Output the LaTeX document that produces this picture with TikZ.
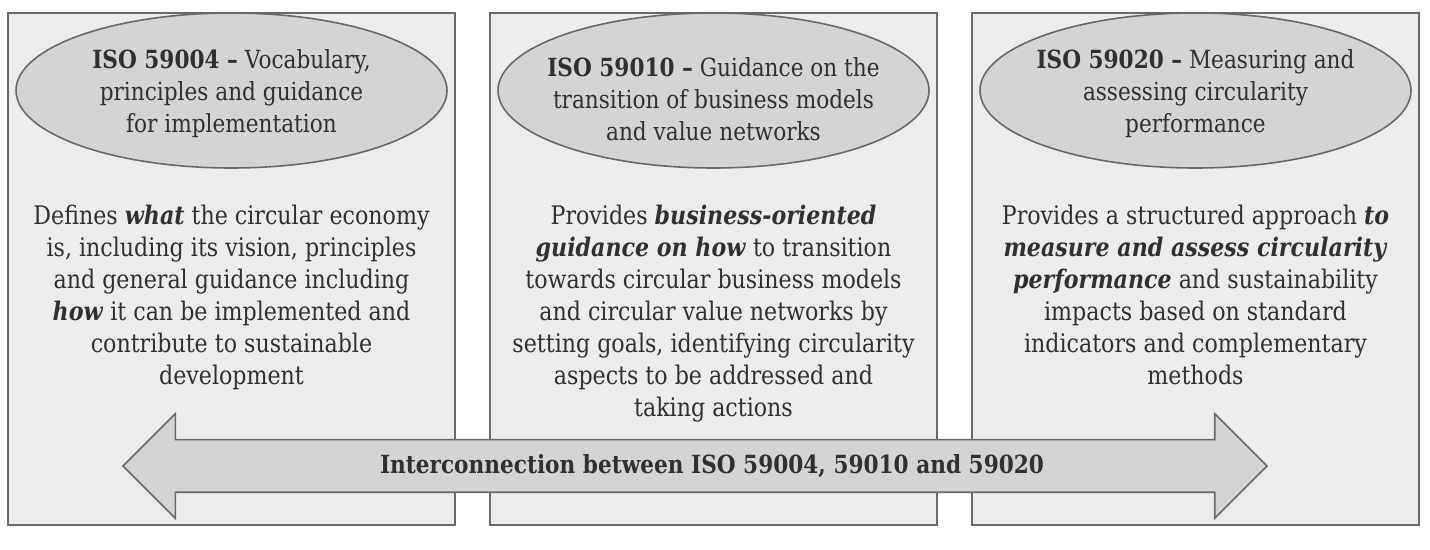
\documentclass[tikz,border=0pt]{standalone}
\usepackage{fontspec}
\setmainfont[FakeStretch=0.865]{DejaVu Serif}
\definecolor{panelgray}{RGB}{236,236,236}
\definecolor{ovalgray}{RGB}{212,212,212}
\definecolor{edgegray}{RGB}{105,105,105}
\definecolor{inkgray}{RGB}{48,48,48}
\usetikzlibrary{positioning}
\usetikzlibrary{shapes.geometric, shapes.arrows}
\newcommand{\hl}[1]{\textbf{\textit{#1}}}

\begin{document}
\begin{tikzpicture}[x=0.5pt, y=-0.5pt,
    panel/.style={draw=edgegray, line width=0.8pt, fill=panelgray, minimum width=223.5pt, minimum height=256pt, inner sep=0pt},
    stdoval/.style={ellipse, draw=edgegray, line width=0.8pt, fill=ovalgray, minimum width=215.5pt, minimum height=77.5pt, inner sep=0pt},
    title/.style={align=center, text=inkgray, inner sep=0pt, font=\fontsize{12.5pt}{16pt}\selectfont},
    desc/.style={align=center, text=inkgray, inner sep=0pt, font=\fontsize{12.8pt}{16pt}\selectfont},
    twoway/.style={double arrow, double arrow head extend=13pt, double arrow tip angle=90, draw=edgegray, line width=0.8pt, fill=ovalgray, minimum width=51.5pt, minimum height=572pt, inner xsep=0pt, inner ysep=12.75pt}]
    \useasboundingbox (0,0) rectangle (1430,550);

    % Panels
    \node[panel] (p1) at (231.5,269) {};
    \node[panel] (p2) [right=16.7pt of p1] {};
    \node[panel] (p3) [right=16.7pt of p2] {};

    % Standards
    \node[stdoval, below=0pt of p1.north] (e1) {};
    \node[stdoval, below=0pt of p2.north] (e2) {};
    \node[stdoval, below=0pt of p3.north] (e3) {};
    \node[title, yshift=-1.5pt] (t1) at (e1) {\textbf{ISO 59004 --} Vocabulary,\\principles and guidance\\for implementation};
    \node[title, yshift=-4.5pt] (t2) at (e2) {\textbf{ISO 59010 --} Guidance on the\\transition of business models\\and value networks};
    \node[title, yshift=-1.5pt] (t3) at (e3) {\textbf{ISO 59020 --} Measuring and\\assessing circularity\\performance};

    % Descriptions
    \node[desc, below=18pt of e1] (d1) {Defines \hl{what} the circular economy\\is, including its vision, principles\\and general guidance including\\\hl{how} it can be implemented and\\contribute to sustainable\\development};
    \node[desc, below=18pt of e2] (d2) {Provides \hl{business-oriented}\\\hl{guidance on how} to transition\\towards circular business models\\and circular value networks by\\setting goals, identifying circularity\\aspects to be addressed and\\taking actions};
    \node[desc, below=18pt of e3] (d3) {Provides a structured approach \hl{to}\\\hl{measure and assess circularity}\\\hl{performance} and sustainability\\impacts based on standard\\indicators and complementary\\methods};

    % Interconnection
    \node[twoway] (link) at (695,466) {};
    \node[title, font=\bfseries\fontsize{12.5pt}{16pt}\selectfont, xshift=8.5pt] (lt) at (link) {Interconnection between ISO 59004, 59010 and 59020};

\end{tikzpicture}
\end{document}
